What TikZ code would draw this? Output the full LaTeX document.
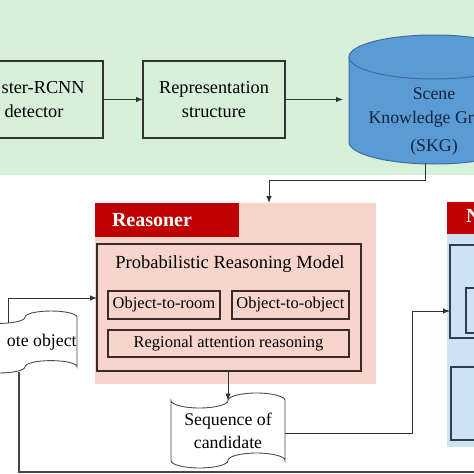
\documentclass[tikz,border=0pt]{standalone}
\usepackage{fontspec}
\setmainfont{Liberation Serif}
\usetikzlibrary{arrows.meta,calc}
\definecolor{greenbg}{HTML}{D6F0DA}
\definecolor{pinkbg}{HTML}{F8D5CB}
\definecolor{redhdr}{HTML}{C00000}
\definecolor{bluebg}{HTML}{CDE2F4}
\definecolor{cylfill}{HTML}{5B9BD5}
\definecolor{cylline}{HTML}{3E6E9E}
\definecolor{boxline}{HTML}{333333}
\definecolor{rline}{HTML}{3B2B28}
\definecolor{nline}{HTML}{2F3E4E}
\definecolor{connc}{HTML}{333333}
\definecolor{cyltext}{HTML}{12223C}
\newcommand{\tapeshape}[4]{%
  \filldraw[tape] (#1,#2+0.1*#4)
    arc[start angle=180,end angle=0,x radius=#3/4,y radius=0.1*#4]
    arc[start angle=180,end angle=360,x radius=#3/4,y radius=0.1*#4]
    -- ++(0,0.8*#4)
    arc[start angle=0,end angle=-180,x radius=#3/4,y radius=0.1*#4]
    arc[start angle=0,end angle=180,x radius=#3/4,y radius=0.1*#4]
    -- cycle;}
\begin{document}
\begin{tikzpicture}[x=1pt,y=-1pt,
  tbox/.style={draw=boxline,line width=1.1pt,inner sep=0pt,outer sep=0pt,align=center,
    font=\fontsize{18.3}{23.5}\selectfont},
  panel/.style={inner sep=0pt,outer sep=0pt,anchor=north west},
  hdr/.style={panel,fill=redhdr,text=white,font=\fontsize{20}{22}\selectfont\bfseries,align=left},
  rbox/.style={draw=rline,line width=1.1pt,inner sep=0pt,outer sep=0pt,fill=pinkbg,
    font=\fontsize{16.5}{20}\selectfont},
  nbox/.style={draw=nline,line width=1.1pt,inner sep=0pt,outer sep=0pt,anchor=north west},
  tape/.style={draw=black!70,fill=white,line width=0.9pt},
  ttext/.style={inner sep=0pt,outer sep=0pt,align=center,font=\fontsize{17.8}{23}\selectfont},
  conn/.style={draw=connc,line width=1pt},
  arr/.style={conn,-{Latex[length=7pt,width=5.5pt]}}]
\useasboundingbox (0,0) rectangle (474,474);
% green area
\fill[greenbg] (0,0) rectangle (474,175);
% top boxes
\node[tbox,minimum width=138,minimum height=77] (frcnn) at (34,99.5) {\phantom{Fa}ster-RCNN\\detector};
\node[tbox,minimum width=142,minimum height=77] (rep) at (214,99.5) {Representation\\structure};
% cylinder
\filldraw[fill=cylfill,draw=cylline,line width=1pt] (349,57) -- (349,142)
  arc[start angle=180,end angle=0,x radius=85,y radius=22] -- (519,57) -- cycle;
\filldraw[fill=cylfill,draw=cylline,line width=1pt] (434,57) ellipse[x radius=85,y radius=22];
\node[inner sep=0pt,outer sep=0pt,minimum width=170,minimum height=60,align=center,text=cyltext,
  font=\fontsize{17.8}{24}\selectfont] (skg) at (434,108) {Scene\\Knowledge Gr\phantom{aph}};
\node[inner sep=0pt,text=cyltext,font=\fontsize{17.8}{24}\selectfont] (skgabbr) at (434,147) {(SKG)};
\coordinate (skgbot) at (425,163);
\draw[arr] (frcnn.east) -- (rep.west);
\draw[arr] (rep.east) -- ([xshift=-6pt]rep.east -| skg.west);
% reasoner
\node[panel,fill=pinkbg,minimum width=281,minimum height=181] (rpanel) at (95,203) {};
\node[hdr,minimum height=34,text width=110pt,inner xsep=17pt] (rhead) at (95,203) {Reasoner};
\node[rbox,anchor=north west,minimum width=264,minimum height=127] (prm) at (97,244) {};
\node[inner sep=0pt,font=\fontsize{18.5}{22}\selectfont] (prmtitle) at (230,264) {Probabilistic Reasoning Model};
\node[rbox,minimum width=112,minimum height=28] (o2r) at (164,305) {Object-to-room};
\node[rbox,minimum width=117,minimum height=28] (o2o) at (290.5,305) {Object-to-object};
\node[rbox,minimum width=241,minimum height=27] (rar) at (228.5,343.5) {Regional attention reasoning};
% navigator
\node[panel,fill=bluebg,minimum width=40,minimum height=245] (npanel) at (447,202) {};
\node[hdr,minimum height=32,text width=60pt,inner xsep=19pt] (nhead) at (447,202) {N\phantom{avigator}};
\node[nbox,minimum width=60,minimum height=93] (nav1) at (450,245) {};
\node[nbox,minimum width=40,minimum height=45] (nav1b) at (466,288) {};
\node[nbox,minimum width=60,minimum height=73] (nav2) at (451,367) {};
% tapes
\tapeshape{171}{393}{114}{75}
\node[ttext,minimum width=114,minimum height=60] (seq) at (228,430.5) {Sequence of\\candidate};
\tapeshape{-27}{311}{104}{62}
\node[ttext,minimum width=104,minimum height=50] (remote) at (25,342) {\phantom{Rem}ote object};
\coordinate (remtop) at (8,323);
\coordinate (rembot) at (19,372);
\coordinate (botend) at (480,472);
% connectors
\draw[arr] (skgbot) -- ++(0,17) -| ([xshift=33.5pt]rpanel.north);
\draw[arr] (remtop) |- ([yshift=9.5pt]prm.west);
\draw[arr] (prm.south -| seq.north) -- (seq.north);
\draw[arr] ([yshift=-2.5pt]seq.east) -- ++(127,0) |- ([yshift=-19.5pt]nav1.west);
\draw[draw=black!72,line width=2.2pt] (rembot) |- (botend);
\end{tikzpicture}
\end{document}
